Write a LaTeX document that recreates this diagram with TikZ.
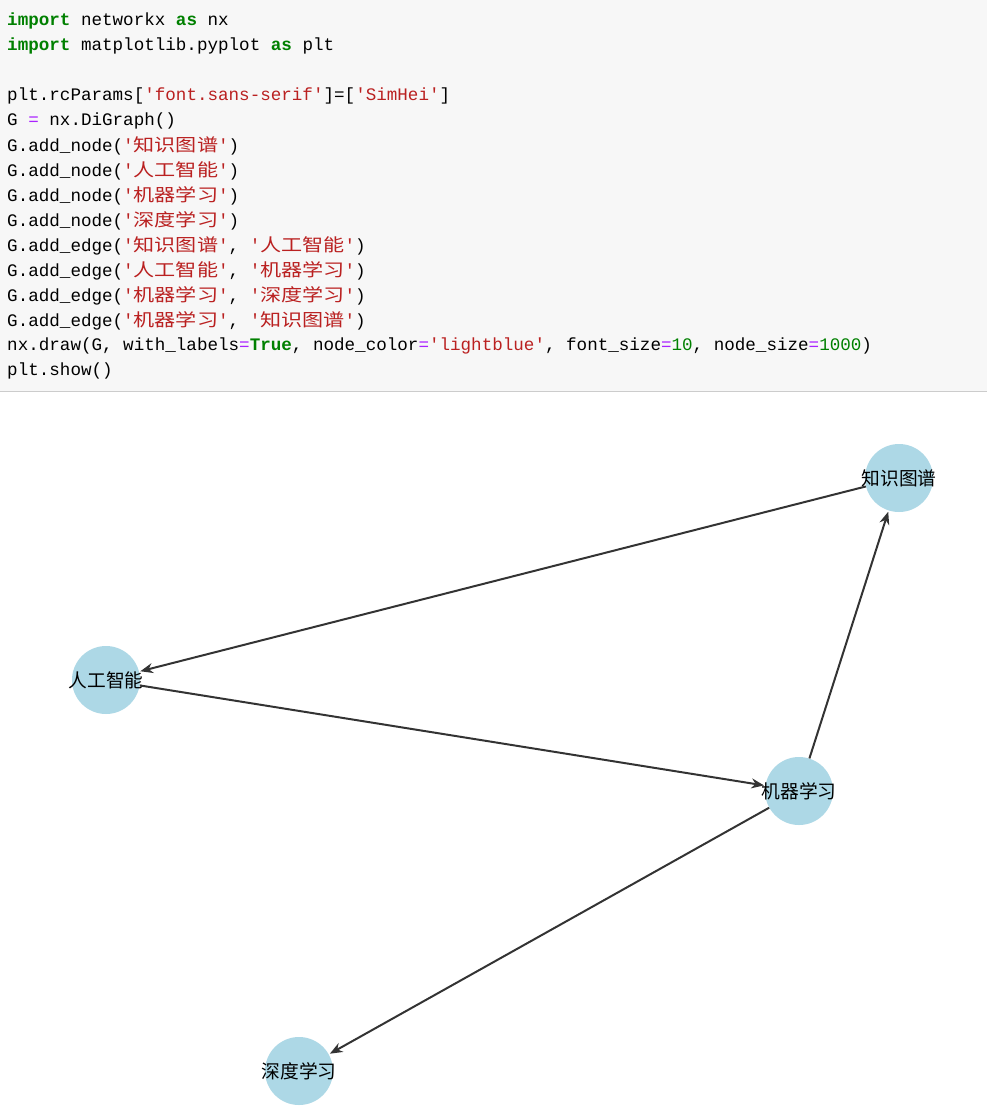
\documentclass[tikz,border=0pt]{standalone}
\usepackage{fontspec}
\setmonofont{Liberation Mono}
\newfontfamily\cjk{Noto Sans CJK SC}
\newfontfamily\cjkcode[FakeStretch=1.2]{Noto Sans CJK SC}
\usetikzlibrary{arrows.meta}
\definecolor{codebg}{HTML}{F7F7F7}
\definecolor{kwgreen}{HTML}{008000}
\definecolor{strred}{HTML}{BA2121}
\definecolor{oppurple}{HTML}{AA22FF}
\definecolor{nodeblue}{HTML}{ADD8E6}
\definecolor{edgegray}{HTML}{333333}
\newcommand{\kw}[1]{\textcolor{kwgreen}{\bfseries #1}}
\newcommand{\str}[1]{\textcolor{strred}{#1}}
\newcommand{\zh}[1]{\textcolor{strred}{\cjkcode #1}}
\newcommand{\num}[1]{\textcolor{kwgreen}{#1}}
\newcommand{\op}[1]{\textcolor{oppurple}{#1}}
\tikzset{
  codeline/.style={anchor=west, inner sep=0pt, font=\ttfamily\fontsize{15}{15}\selectfont},
  gnode/.style={circle, fill=nodeblue, minimum size=2.04cm, inner sep=0pt,
    label={[font=\cjk\fontsize{16}{16}\selectfont, inner sep=0pt]center:#1}},
  gedge/.style={draw=edgegray, line width=1.7pt, -{Stealth[length=0.38cm, width=0.3cm]}, shorten >=1pt}
}
\begin{document}
\begin{tikzpicture}[x=0.03cm, y=-0.03cm]
    % Marco
    \useasboundingbox (0,0) rectangle (987,1112);
    \fill[white] (0,0) rectangle (987,1112);

    % Celda de codigo
    \fill[codebg] (0,0) rectangle (987,391);
    \draw[gray!40] (0,391) -- (987,391);
    \node[codeline] (l1) at (7,21) {\kw{import} networkx \kw{as} nx};
    \node[codeline] (l2) at (7,46) {\kw{import} matplotlib.pyplot \kw{as} plt};
    \node[codeline] (l3) at (7,96) {plt.rcParams[\str{'font.sans-serif'}]=[\str{'SimHei'}]};
    \node[codeline] (l4) at (7,121) {G \op{=} nx.DiGraph()};
    \node[codeline] (l5) at (7,146) {G.add\_node(\str{'}\zh{知识图谱}\str{'})};
    \node[codeline] (l6) at (7,171) {G.add\_node(\str{'}\zh{人工智能}\str{'})};
    \node[codeline] (l7) at (7,196) {G.add\_node(\str{'}\zh{机器学习}\str{'})};
    \node[codeline] (l8) at (7,221) {G.add\_node(\str{'}\zh{深度学习}\str{'})};
    \node[codeline] (l9) at (7,246) {G.add\_edge(\str{'}\zh{知识图谱}\str{'}, \str{'}\zh{人工智能}\str{'})};
    \node[codeline] (l10) at (7,271) {G.add\_edge(\str{'}\zh{人工智能}\str{'}, \str{'}\zh{机器学习}\str{'})};
    \node[codeline] (l11) at (7,296) {G.add\_edge(\str{'}\zh{机器学习}\str{'}, \str{'}\zh{深度学习}\str{'})};
    \node[codeline] (l12) at (7,321) {G.add\_edge(\str{'}\zh{机器学习}\str{'}, \str{'}\zh{知识图谱}\str{'})};
    \node[codeline] (l13) at (7,346) {nx.draw(G, with\_labels\op{=}\kw{True}, node\_color\op{=}\str{'lightblue'}, font\_size\op{=}\num{10}, node\_size\op{=}\num{1000})};
    \node[codeline] (l14) at (7,371) {plt.show()};

    % Nodos del grafo
    \node[gnode=知识图谱] (kg) at (899,478) {};
    \node[gnode=人工智能] (ai) at (106,680) {};
    \node[gnode=机器学习] (ml) at (799,791) {};
    \node[gnode=深度学习] (dl) at (299,1071) {};

    % Aristas
    \draw[gedge] (kg) -- (ai);
    \draw[gedge] (ai) -- (ml);
    \draw[gedge] (ml) -- (dl);
    \draw[gedge] (ml) -- (kg);
\end{tikzpicture}
\end{document}
